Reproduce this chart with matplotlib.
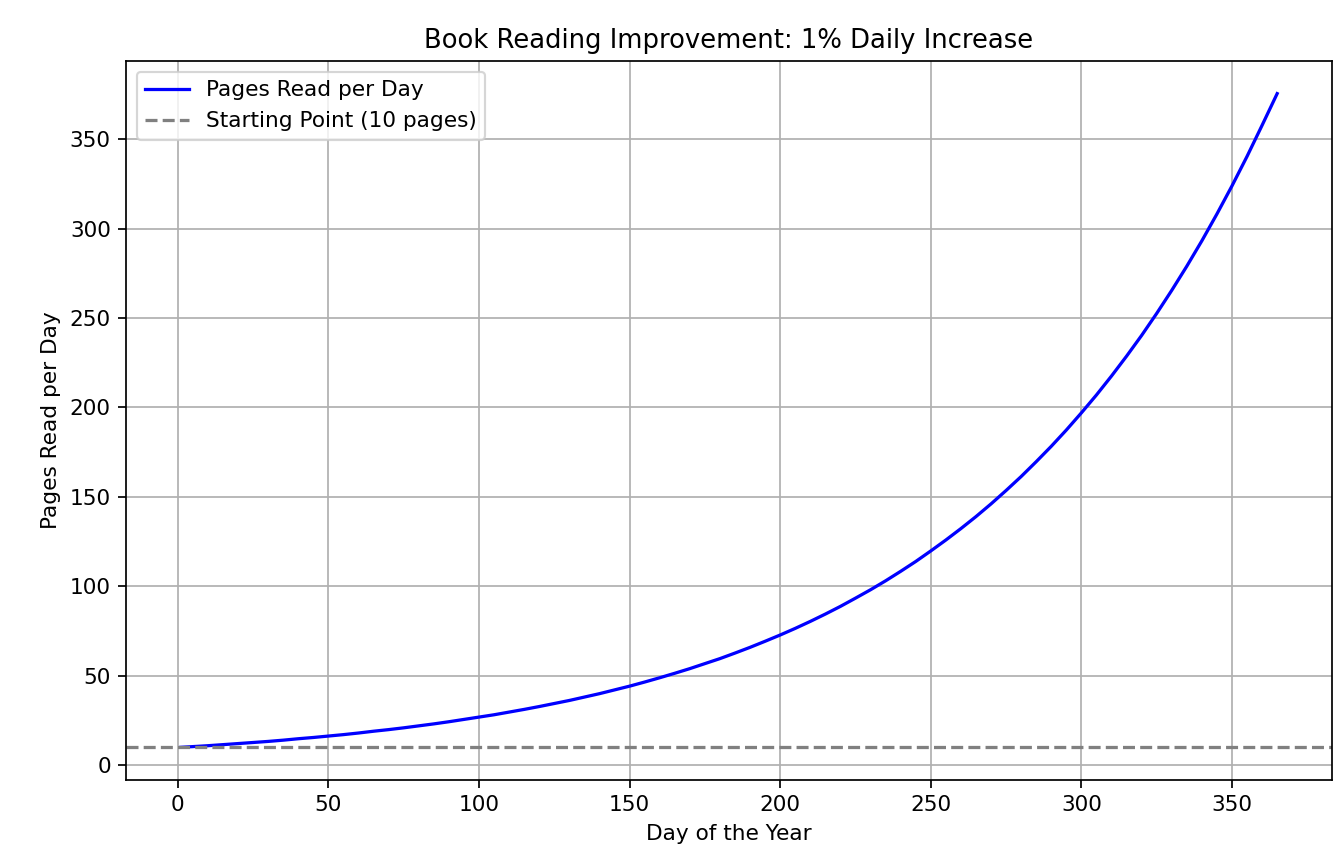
import matplotlib
matplotlib.use("Agg")
import matplotlib.pyplot as plt

# Pages read per day (every 5 days)
days = [1, 5, 10, 15, 20, 25, 30, 35, 40, 45, 50, 55, 60, 65, 70, 75, 80,
        85, 90, 95, 100, 105, 110, 115, 120, 125, 130, 135, 140, 145, 150,
        155, 160, 165, 170, 175, 180, 185, 190, 195, 200, 205, 210, 215, 220,
        225, 230, 235, 240, 245, 250, 255, 260, 265, 270, 275, 280, 285, 290,
        295, 300, 305, 310, 315, 320, 325, 330, 335, 340, 345, 350, 355, 360,
        365]
pages = [10.0, 10.4, 10.9, 11.5, 12.1, 12.7, 13.3, 14.0, 14.8, 15.5, 16.3,
         17.1, 18.0, 19.0, 19.9, 20.9, 22.0, 23.1, 24.3, 25.6, 26.9, 28.2,
         29.7, 31.2, 32.8, 34.5, 36.2, 38.1, 40.0, 42.1, 44.2, 46.5, 48.9,
         51.4, 54.0, 56.8, 59.6, 62.7, 65.9, 69.3, 72.8, 76.5, 80.4, 84.5,
         88.8, 93.4, 98.1, 103.1, 108.4, 113.9, 119.8, 125.9, 132.3, 139.0,
         146.1, 153.6, 161.4, 169.7, 178.3, 187.4, 197.0, 207.0, 217.6, 228.7,
         240.3, 252.6, 265.5, 279.0, 293.2, 308.2, 323.9, 340.4, 357.8, 375.5]
start_pages = 10

DPI = 155.6
fig, ax = plt.subplots(figsize=(1343 / DPI, 858 / DPI), dpi=DPI)
fig.subplots_adjust(left=0.0938, right=0.9918, top=0.929, bottom=0.0909)

ax.plot(days, pages, color="blue", label="Pages Read per Day")
ax.axhline(start_pages, color="gray", linestyle="--", label="Starting Point (10 pages)")

ax.set_title("Book Reading Improvement: 1% Daily Increase")
ax.set_xlabel("Day of the Year")
ax.set_ylabel("Pages Read per Day")
ax.grid(True)
ax.legend(loc="upper left")

fig.savefig("out.png", dpi=DPI)
